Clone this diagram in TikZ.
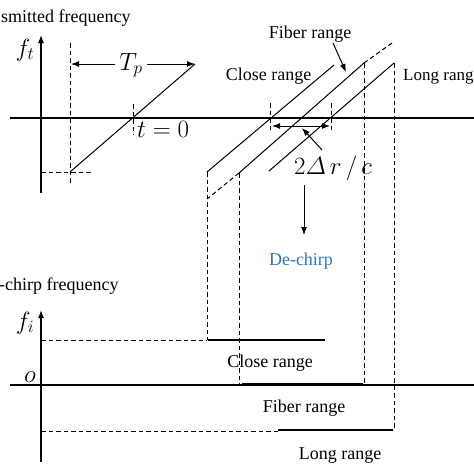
\documentclass[tikz,border=0pt]{standalone}
\usepackage{amsmath}
\usepackage{fontspec}
\setmainfont{Liberation Serif}
\usetikzlibrary{arrows.meta}
\definecolor{dcblue}{RGB}{46,117,182}
\begin{document}
\begin{tikzpicture}[x=1pt,y=-1pt,
  thinline/.style={line width=1pt},
  axisline/.style={line width=1.1pt},
  dashline/.style={line width=1pt, dash pattern=on 4.5pt off 3pt},
  thickbar/.style={line width=2.8pt},
  lbl/.style={font=\fontsize{18}{20}\selectfont, inner sep=0pt},
  mlbl/.style={font=\fontsize{23}{26}\selectfont, inner sep=0pt},
  tip/.style={-{Latex[length=8pt,width=6pt]}},
  tips/.style={{Latex[length=8pt,width=6pt]}-{Latex[length=8pt,width=6pt]}},
]
\useasboundingbox (0,0) rectangle (474,474);

% ---------- top panel ----------
\node[lbl, anchor=base west] (ttl1) at (1,22) {smitted frequency};
\coordinate (ax1l) at (10,118); \coordinate (ax1r) at (474,118);
\coordinate (ay1b) at (41,193); \coordinate (ay1t) at (41,35);
\draw[axisline] (ax1l) -- (ax1r);
\draw[axisline, tip] (ay1b) -- (ay1t);
\node[mlbl] (ft) at (25,50) {$f_t$};

\coordinate (r0) at (70,172); \coordinate (r1) at (195,64);
\draw[dashline] (70,43) -- (70,185);
\draw[dashline] (41,172) -- (91,172);
\draw[thinline] (r0) -- (r1);
\draw[dashline] (133,104) -- (133,135);
\node[mlbl, anchor=base west] (t0) at (137,137) {$t=0$};

\node[mlbl, anchor=base, inner xsep=4pt] (Tp) at (131,70) {$T_p$};
\coordinate (tpl) at (71,64);
\draw[thinline, tip] (Tp.west |- tpl) -- (tpl);
\draw[thinline, tip] (Tp.east |- r1) -- (r1);

% three received ramps
\coordinate (c0) at (207,172); \coordinate (c1) at (334,65);
\coordinate (f0) at (239,173); \coordinate (f1) at (364,63);
\coordinate (f2) at (392,43);  \coordinate (fm) at (207,199);
\coordinate (l0) at (269,171); \coordinate (l1) at (394,63);
\draw[thinline] (c0) -- (c1);
\draw[thinline] (f0) -- (f1);
\draw[dashline] (f1) -- (f2);
\draw[dashline] (f0) -- (fm);
\draw[thinline] (l0) -- (l1);

\node[lbl, anchor=base] (fibT) at (310,38) {Fiber range};
\draw[thinline, tip] (333,43) -- (346,72);
\node[lbl, anchor=base] (cloT) at (268.5,80) {Close range};
\node[lbl, anchor=base west, font=\fontsize{17}{20}\selectfont] (lonT) at (403,80) {Long rang};

% 2 Delta r / c
\draw[dashline] (270,103) -- (270,133);
\draw[dashline] (331,103) -- (331,133);
\draw[thinline, tips] (272,126) -- (330,126);
\node[mlbl] (dr) at (333,168) {$2\varDelta\,r\,/\,c$};
\draw[thinline, tip] (322,150) -- (302,128);

% de-chirp
\draw[thinline, tip] (304,185) -- (304,235);
\node[lbl, anchor=base, text=dcblue] (dc) at (301,265) {De-chirp};

% ---------- bottom panel ----------
\node[lbl, anchor=base west] (ttl2) at (-1,290) {-chirp frequency};
\coordinate (ax2l) at (10,385); \coordinate (ax2r) at (474,385);
\coordinate (ay2b) at (41,462); \coordinate (ay2t) at (41,310);
\draw[axisline] (ax2l) -- (ax2r);
\draw[axisline, tip] (ay2b) -- (ay2t);
\node[mlbl] (fi) at (25,323) {$f_i$};
\node[mlbl, anchor=base] (o) at (30,382) {$o$};

\draw[dashline] (41,340) -- (207,340);
\draw[dashline] (41,431) -- (278,431);

% vertical projections
\draw[dashline] (c0) -- (207,340);
\draw[dashline] (f0) -- (239,384);
\draw[dashline] (f1) -- (364,384);
\draw[dashline] (l1) -- (394,430);

% beat frequency bars
\draw[thickbar] (208,340) -- (325,340);
\draw[thickbar] (242,384) -- (363,384);
\draw[thickbar] (278,430) -- (393,430);

\node[lbl, anchor=base] (cloB) at (270,367) {Close range};
\node[lbl, anchor=base] (fibB) at (304,412) {Fiber range};
\node[lbl, anchor=base] (lonB) at (340,459) {Long range};
\end{tikzpicture}
\end{document}
